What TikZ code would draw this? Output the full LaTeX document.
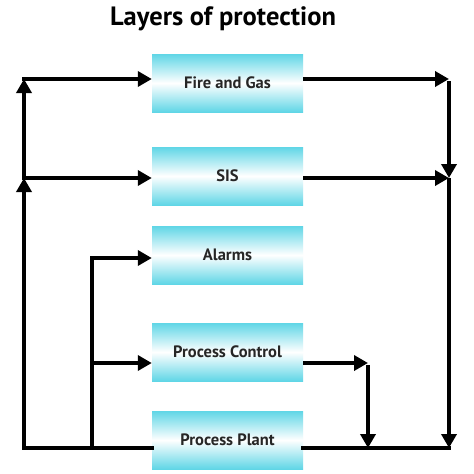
\documentclass[tikz,border=0pt]{standalone}
\usepackage{fontspec}
\setmainfont{PT Sans}
\usetikzlibrary{arrows.meta}
\definecolor{boxcyan}{RGB}{96,214,230}
\begin{document}
\begin{tikzpicture}[x=1pt,y=-1pt,
  layerbox/.style={rectangle, minimum width=151pt, minimum height=58pt, inner sep=0pt,
    top color=boxcyan, bottom color=boxcyan, middle color=white, draw=none,
    font=\fontsize{16.5}{18}\selectfont\bfseries, text=black!85},
  conn/.style={line width=4pt, draw=black},
  arr/.style={conn, -{Triangle[length=14pt,width=15pt]}}
]
\useasboundingbox (0,0) rectangle (474,474);
\fill[white] (0,0) rectangle (474,474);
\node[anchor=base, font=\fontsize{26.5}{30}\selectfont\bfseries] (title) at (223,25) {Layers of protection};

\node[layerbox] (fg) at (227.5,83) {Fire and Gas};
\node[layerbox] (sis) at (227.5,176) {SIS};
\node[layerbox] (al) at (227.5,255) {Alarms};
\node[layerbox] (pc) at (227.5,352) {Process Control};
\node[layerbox] (pp) at (227.5,440) {Process Plant};

\coordinate (L1) at (24,79);
\coordinate (L2) at (24,178);
\coordinate (Lb) at (24,448);
\coordinate (M1) at (92,258);
\coordinate (M2) at (92,363);
\coordinate (Mb) at (92,448);
\coordinate (R1) at (449,79);
\coordinate (R2) at (449,178);
\coordinate (Rb) at (449,448);
\coordinate (P1) at (368,363);
\coordinate (Pb) at (368,448);

% left feedback
\draw[conn, line cap=rect] (pp.west |- Lb) -- (Lb);
\draw[arr] (Lb) -- (L2);
\draw[arr] (L2) -- (L1);
\draw[arr] ([xshift=-2pt]L1) -- (fg.west |- L1);
\draw[arr] ([xshift=-2pt]L2) -- (sis.west |- L2);
\draw[arr] (Mb) -- (M1) -- (al.west |- M1);
\draw[arr] (M2) -- (pc.west |- M2);

% right side
\draw[arr] (fg.east |- R1) -- (R1);
\draw[arr] ([yshift=-2pt]R1) -- (R2);
\draw[arr] (sis.east |- R2) -- (R2);
\draw[arr] (R2) -- (Rb);
\draw[arr] (pc.east |- P1) -- (P1);
\draw[arr] ([yshift=-2pt]P1) -- (Pb);
\draw[conn, line cap=rect] (pp.east |- Rb) -- (Rb);
\end{tikzpicture}
\end{document}
